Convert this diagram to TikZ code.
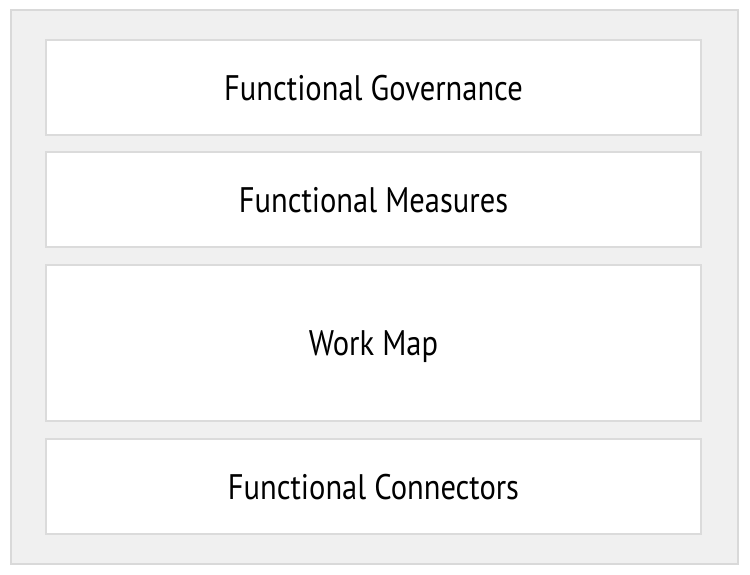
\documentclass[tikz,border=0pt]{standalone}
\usepackage{fontspec}
\setmainfont{PT Sans}[FakeStretch=0.86]
\tikzset{
  outerbox/.style={draw=black!15, fill=black!6, line width=1.2pt},
  layerbox/.style={draw=black!14, fill=white, line width=1.2pt, inner sep=0pt,
    minimum width=655pt, font=\fontsize{35.5}{42}\selectfont, text=black,
    text height=25pt, text depth=0pt},
}
\begin{document}
\begin{tikzpicture}[x=1pt,y=-1pt]
\useasboundingbox (0,0) rectangle (750,574);
\node[outerbox, inner sep=0pt, minimum width=727pt, minimum height=554pt] (outer) at (374.5,287) {};
\node[layerbox, minimum height=95pt] (gov) at (373.5,87.5) {Functional Governance};
\node[layerbox, minimum height=95pt] (meas) at (373.5,199.5) {Functional Measures};
\node[layerbox, minimum height=156pt] (map) at (373.5,343) {Work Map};
\node[layerbox, minimum height=95pt] (conn) at (373.5,486.5) {Functional Connectors};
\end{tikzpicture}
\end{document}
